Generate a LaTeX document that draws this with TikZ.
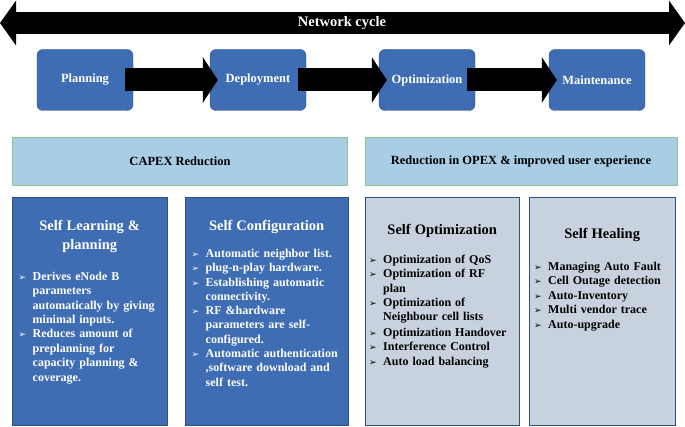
\documentclass[tikz,border=0pt]{standalone}
\usepackage{fontspec}
\setmainfont{Liberation Serif}
\newfontfamily\symfont{DejaVu Sans}
\usetikzlibrary{arrows.meta,positioning}
\definecolor{sonblue}{HTML}{3F6DB3}
\definecolor{sonedge}{HTML}{2F4F80}
\definecolor{capexfill}{HTML}{A9CDE4}
\definecolor{capexedge}{HTML}{8CC48A}
\definecolor{greyfill}{HTML}{C8D2DE}
\hyphenpenalty=10000
\exhyphenpenalty=10000
\newcommand{\bul}{\makebox[14pt][l]{\symfont\small ➢}}
\newcommand{\itm}[1]{\par\noindent\bul\parbox[t]{\dimexpr\linewidth-14pt}{\raggedright #1\strut}}
\newcommand{\ttl}[1]{{\centering\fontsize{14.5}{19}\selectfont #1\par}}
\tikzset{
  phase/.style={draw=sonedge, fill=sonblue, rounded corners=6pt, minimum width=96pt,
    minimum height=61pt, text=white, font=\bfseries\fontsize{12.5}{14}\selectfont},
  band/.style={draw=capexedge, fill=capexfill, minimum height=48pt, font=\bfseries\fontsize{12.5}{14}\selectfont},
  panel/.style={draw=sonedge, minimum height=228pt, anchor=north west},
  bluepanel/.style={panel, fill=sonblue},
  greypanel/.style={panel, fill=greyfill},
  body/.style={anchor=north, font=\bfseries\fontsize{12}{14.5}\selectfont},
  flow/.style={line width=23pt, -{Triangle[length=15pt 0 0, width=45pt 0]}},
}
\begin{document}
\begin{tikzpicture}[x=1pt,y=-1pt]
  \useasboundingbox (0,0) rectangle (685,427);
  % network cycle
  \coordinate (cycL) at (0,23);
  \coordinate (cycR) at (685,23);
  \draw[line width=22pt, {Triangle[length=16pt 0 0, width=44pt 0]}-{Triangle[length=16pt 0 0, width=44pt 0]}] (cycL) -- (cycR);
  \node[text=white, font=\bfseries\fontsize{14.5}{16}\selectfont] (cyc) at (342,23) {Network cycle};
  % phases
  \node[phase] (plan) at (85,80) {Planning};
  \node[phase] (deploy) at (258,80) {Deployment};
  \node[phase] (optim) at (427,80) {Optimization};
  \node[phase] (maint) at (597,80) {Maintenance};
  \draw[flow] ([xshift=-8pt]plan.east) -- ([xshift=8pt]deploy.west);
  \draw[flow] ([xshift=-8pt]deploy.east) -- ([xshift=8pt]optim.west);
  \draw[flow] ([xshift=-8pt]optim.east) -- ([xshift=8pt]maint.west);
  % bands
  \node[band, minimum width=335pt] (capex) at (180,161) {CAPEX Reduction};
  \node[band, minimum width=312pt] (opex) at (521,161) {Reduction in OPEX \& improved user experience};
  % panels
  \node[bluepanel, minimum width=155pt] (learn) at (12,197) {};
  \node[bluepanel, minimum width=163pt] (config) at (185,197) {};
  \node[greypanel, minimum width=154pt] (selfopt) at (365,197) {};
  \node[greypanel, minimum width=146pt] (heal) at (529,197) {};
  \node[body, text=white, text width=142pt] (learntxt) at ([yshift=-20pt]learn.north) {%
    \ttl{Self Learning \&\\ planning}\vspace{16pt}
    \itm{Derives eNode B\\ parameters\\ automatically by giving\\ minimal inputs.}
    \itm{Reduces amount of\\ preplanning for\\ capacity planning \&\\ coverage.}};
  \node[body, text=white, text width=150pt] (configtxt) at ([yshift=-20pt]config.north) {%
    \ttl{Self Configuration}\vspace{12pt}
    \itm{Automatic neighbor list.}
    \itm{plug-n-play hardware.}
    \itm{Establishing automatic\\ connectivity.}
    \itm{RF \&hardware\\ parameters are self-\\ configured.}
    \itm{Automatic authentication\\ ,software download and\\ self test.}};
  \node[body, text width=146pt] (selfopttxt) at ([yshift=-24pt]selfopt.north) {%
    \ttl{Self Optimization}\vspace{14pt}
    \itm{Optimization of QoS}
    \itm{Optimization of RF\\ plan}
    \itm{Optimization of\\ Neighbour cell lists}
    \itm{Optimization Handover}
    \itm{Interference Control}
    \itm{Auto load balancing}};
  \node[body, text width=136pt] (healtxt) at ([yshift=-28pt]heal.north) {%
    \ttl{Self Healing}\vspace{17pt}
    \itm{Managing Auto Fault}
    \itm{Cell Outage detection}
    \itm{Auto-Inventory}
    \itm{Multi vendor trace}
    \itm{Auto-upgrade}};
\end{tikzpicture}
\end{document}
